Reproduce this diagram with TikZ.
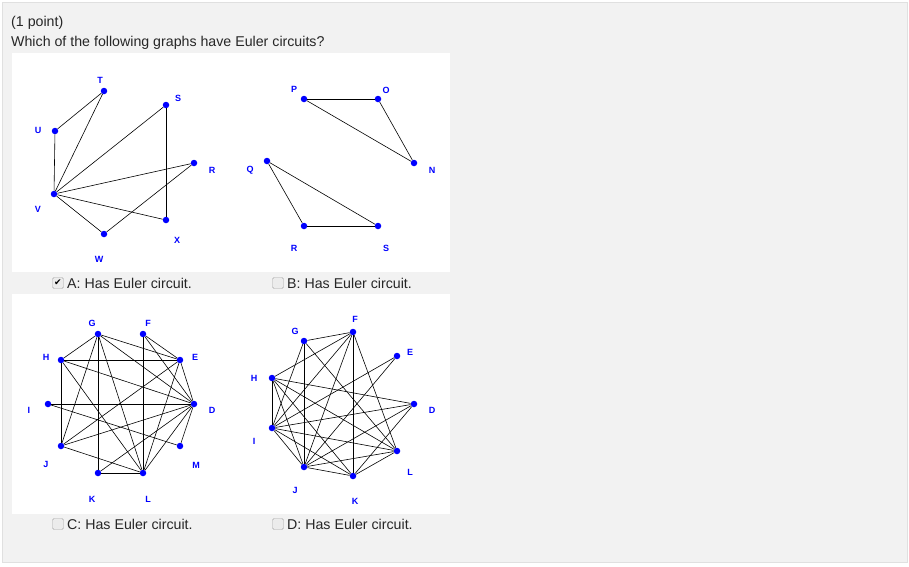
\documentclass[tikz,border=0pt]{standalone}
\usepackage{fontspec}
\setmainfont{Liberation Sans}
\newfontfamily\symf{DejaVu Sans}
\begin{document}
\begin{tikzpicture}[x=1pt,y=-1pt,
  v/.style={circle,fill=blue,inner sep=0pt,minimum size=6.5pt},
  lb/.style={text=blue,font=\fontsize{9}{10}\selectfont\bfseries},
  ed/.style={black,line width=0.6pt},
  tx/.style={anchor=west,font=\fontsize{14.2}{16}\selectfont,text=black!85,inner sep=0pt},
  cb/.style={draw=gray!70,fill=gray!15,rounded corners=1.5pt,minimum size=11pt,inner sep=0pt}]
\useasboundingbox (0,0) rectangle (909,566);
\fill[white] (0,0) rectangle (909,566);
\filldraw[fill=black!5,draw=black!12] (2,2) rectangle (907,562);
\fill[white] (12,53) rectangle (450,272);
\fill[white] (12,294) rectangle (450,514);
\node[tx] (t1) at (11,23) {(1 point)};
\node[tx] (t2) at (11,43) {Which of the following graphs have Euler circuits?};
% Graph A
\foreach \n/\x/\y/\lx/\ly in {T/104/91/100/80,S/166/105/178/98,U/55/131/38/130,R/194/163/212/170,V/54/194/38/209,X/166/220/177/240,W/104/234/99/259}{
  \node[v] (a\n) at (\x,\y) {}; \node[lb] (la\n) at (\lx,\ly) {\n};}
\foreach \a/\b in {T/U,T/V,U/V,V/S,V/R,V/X,V/W,W/R,S/X} \draw[ed] (a\a)--(a\b);
% Graph B
\foreach \n/\x/\y/\lx/\ly in {P/304/99/294/89,O/378/99/386/90,N/414/163/432/170,Q/267/161/250/170,R/304/226/294/248,S/378/226/386/248}{
  \node[v] (b\n) at (\x,\y) {}; \node[lb] (lb\n) at (\lx,\ly) {\n};}
\foreach \a/\b in {P/O,O/N,P/N,Q/R,Q/S,R/S} \draw[ed] (b\a)--(b\b);
% Graph C
\foreach \n/\x/\y/\lx/\ly in {G/98/334/92/323,F/143/334/148/323,E/180/360/195/357,H/61/360/46/357,I/48/404/29/410,D/194/404/212/410,J/61/446/46/464,M/180/446/196/465,K/98/473/92/499,L/143/473/148/499}{
  \node[v] (c\n) at (\x,\y) {}; \node[lb] (lc\n) at (\lx,\ly) {\n};}
\foreach \a/\b in {G/H,G/E,G/D,G/K,G/L,G/J,F/E,F/D,F/L,H/E,H/D,H/J,H/L,E/D,E/J,E/L,I/D,I/M,D/J,D/K,D/L,D/M,J/L,K/L} \draw[ed] (c\a)--(c\b);
% Graph D
\foreach \n/\x/\y/\lx/\ly in {F/353/332/355/319,G/304/341/295/331,E/397/356/410/352,H/272/378/254/378,D/414/404/432/410,I/272/428/254/441,L/397/451/410/472,J/304/467/295/490,K/353/476/355/501}{
  \node[v] (d\n) at (\x,\y) {}; \node[lb] (ld\n) at (\lx,\ly) {\n};}
\foreach \a/\b in {G/F,G/J,G/I,G/L,F/H,F/I,F/J,F/K,F/L,E/I,E/J,H/I,H/D,H/L,H/K,H/J,I/D,I/L,I/K,I/J,D/J,D/K,J/L,J/K,K/L} \draw[ed] (d\a)--(d\b);
% answer rows
\node[cb] (c1) at (58,283) {\symf\fontsize{9}{9}\selectfont ✔};
\node[tx] (a1) at (67,283) {A: Has Euler circuit.};
\node[cb] (c2) at (278,283) {};
\node[tx] (a2) at (287,283) {B: Has Euler circuit.};
\node[cb] (c3) at (58,524) {};
\node[tx] (a3) at (67,524) {C: Has Euler circuit.};
\node[cb] (c4) at (278,524) {};
\node[tx] (a4) at (287,524) {D: Has Euler circuit.};
\end{tikzpicture}
\end{document}
